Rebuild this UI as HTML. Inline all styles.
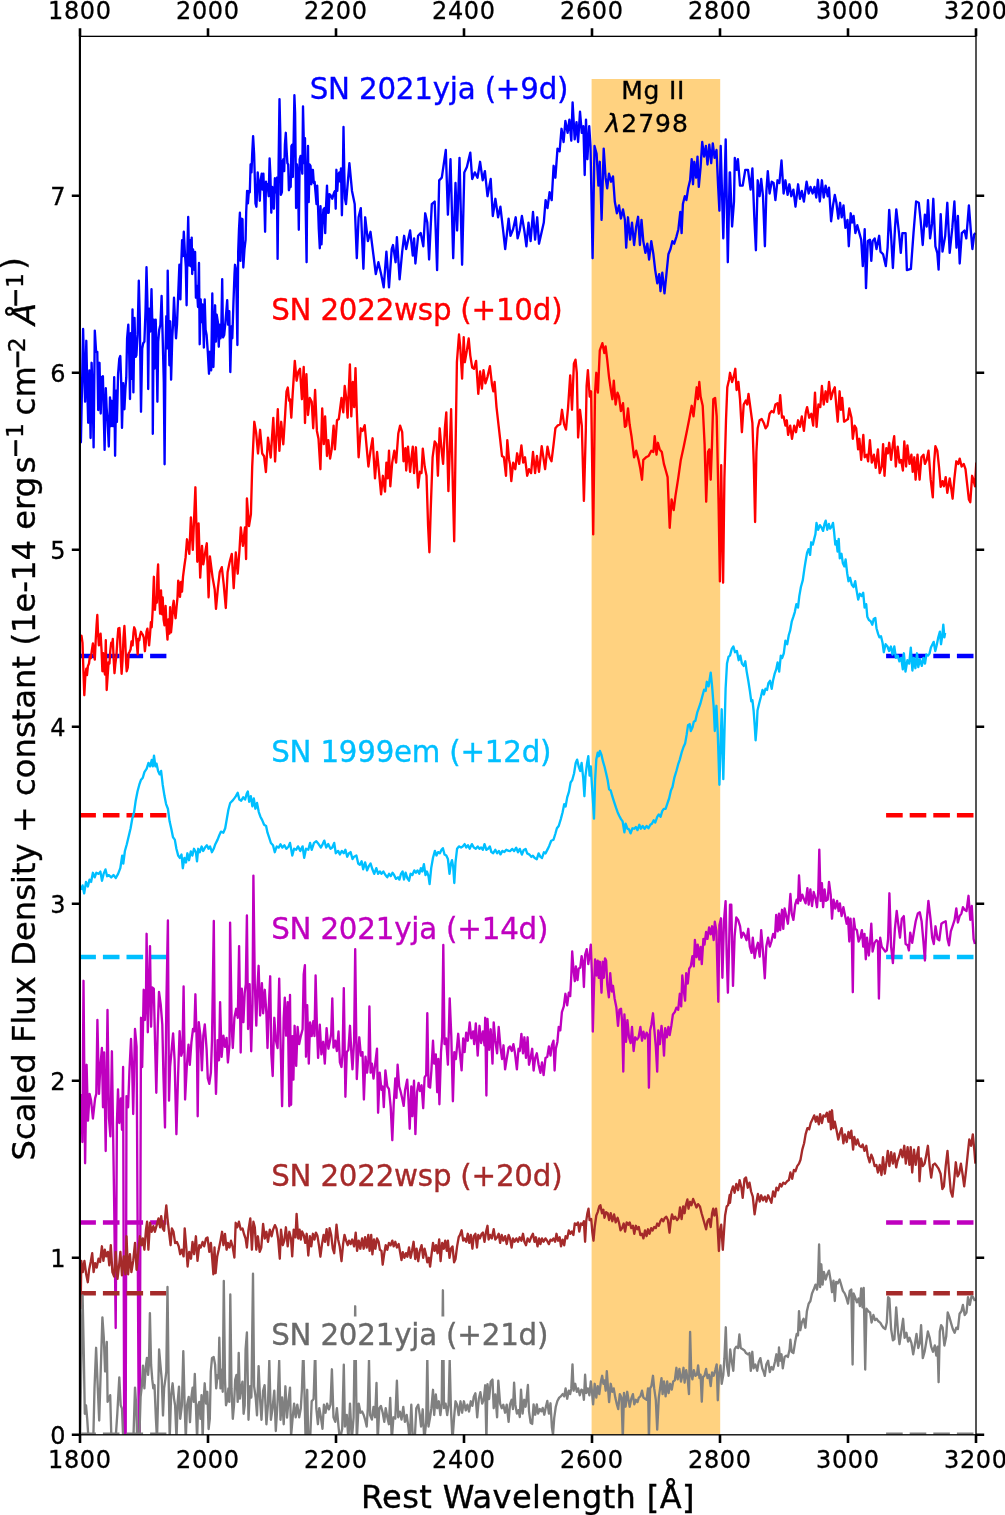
<!DOCTYPE html>
<html><head><meta charset="utf-8"><title>Spectra</title><style>html,body{margin:0;padding:0;background:#fff}body{width:1005px;height:1515px;overflow:hidden}</style></head><body>
<svg width="1005" height="1515" viewBox="0 0 1005 1515" style="display:block">
<rect width="1005" height="1515" fill="#fff"/>
<defs><clipPath id="ax"><rect x="80" y="36.35" width="896" height="1398.45"/></clipPath></defs>
<rect x="591.6" y="79" width="128.6" height="1355.8" fill="#ffd280"/>
<g clip-path="url(#ax)">
<polyline points="80.6,441.7 80.9,442.3 82.1,382.2 83.1,329.0 84.3,377.2 85.1,401.7 86.3,340.8 87.3,389.0 88.2,422.8 89.4,370.4 90.6,438.1 91.6,362.8 92.8,399.1 93.6,447.4 94.8,330.6 96.1,351.8 97.3,351.8 98.2,410.1 99.5,362.8 100.7,413.5 101.7,377.2 102.9,376.3 103.8,416.1 104.6,449.9 105.8,388.2 106.6,407.6 107.6,421.1 108.8,446.5 110.0,397.5 111.0,426.2 111.9,400.8 113.1,426.2 114.2,377.2 115.1,455.8 116.1,390.7 116.9,422.0 118.1,373.8 119.3,358.6 120.3,356.0 121.2,382.2 122.0,427.9 123.2,383.1 124.4,409.3 125.4,389.0 126.3,377.2 127.1,338.3 128.3,324.7 129.1,348.4 130.0,399.1 130.8,333.2 131.7,378.8 132.5,309.5 133.4,392.4 134.5,318.0 135.6,356.9 136.4,355.2 137.6,334.9 138.8,280.7 139.8,318.0 141.0,411.8 142.2,348.4 143.2,343.3 144.4,341.6 145.5,311.2 146.5,267.2 147.4,301.0 148.2,389.0 149.1,308.7 150.3,331.5 151.5,289.2 152.5,331.5 152.8,433.8 153.7,319.6 154.5,368.7 155.7,319.6 156.7,356.9 157.4,401.7 158.2,341.6 159.2,329.8 160.4,324.7 161.6,296.0 162.6,334.9 163.8,382.2 164.6,464.3 165.5,353.5 166.3,316.3 167.2,348.4 167.7,270.6 168.5,321.3 169.4,365.3 170.2,321.3 171.1,379.7 172.3,336.6 173.1,323.0 174.0,297.7 175.1,321.3 176.0,338.3 177.0,324.7 178.2,294.3 179.4,264.7 180.4,299.4 181.2,264.7 182.1,240.1 182.9,256.2 183.8,231.7 184.9,252.8 185.8,266.4 186.6,305.3 187.5,246.1 188.2,217.0 189.2,265.5 190.0,240.1 190.9,266.4 191.7,237.6 192.2,274.0 193.1,249.5 194.2,269.7 195.1,252.0 195.9,297.7 196.8,285.8 198.0,307.0 199.0,263.0 199.7,344.2 200.7,299.4 201.5,322.2 202.4,304.4 203.0,318.0 203.9,347.6 204.7,299.4 205.6,329.8 206.6,334.9 207.8,351.8 209.0,373.8 210.0,351.8 211.2,370.4 212.3,293.4 213.4,367.0 214.2,339.9 215.1,305.3 215.9,341.6 216.7,314.6 217.9,322.2 218.8,346.7 219.6,324.7 220.5,338.3 221.3,329.8 222.2,279.1 223.0,337.4 224.2,334.9 225.2,324.7 226.4,310.3 227.2,300.2 228.1,324.7 229.3,311.2 230.3,372.1 231.5,326.4 232.3,338.3 233.5,301.0 234.5,274.0 235.0,264.8 236.1,270.1 237.4,345.0 238.2,251.6 239.0,229.2 239.9,212.7 240.5,260.9 241.6,218.6 242.5,219.3 243.3,267.5 244.5,249.0 245.6,239.7 246.2,212.0 247.1,190.9 247.9,203.4 248.9,190.9 249.8,192.2 250.6,164.5 251.5,172.4 252.2,153.9 253.1,136.1 254.1,153.9 254.8,177.7 255.5,203.4 256.4,206.7 257.2,189.6 257.7,172.4 258.5,181.7 259.2,185.6 259.8,200.8 260.7,180.3 261.7,173.7 262.5,189.6 263.4,173.7 264.3,198.8 265.1,231.8 266.0,181.7 266.7,190.2 267.6,184.3 268.7,196.2 269.6,158.5 270.4,175.0 271.3,212.7 272.2,186.9 273.0,188.3 273.9,208.7 274.9,178.3 275.9,192.2 276.8,177.7 277.6,258.9 278.6,164.5 279.5,99.1 280.3,132.8 280.9,194.9 281.9,192.2 282.5,161.8 283.4,159.2 284.2,171.1 284.9,144.7 285.8,132.8 286.5,148.6 287.4,163.2 288.2,164.5 288.9,190.2 289.8,186.9 290.7,186.9 291.4,146.0 292.2,144.7 292.8,177.0 293.7,136.8 294.4,95.2 295.1,113.0 295.7,164.5 296.1,208.1 297.0,164.5 298.0,177.7 298.8,229.8 299.7,159.2 300.6,155.9 301.4,164.5 302.3,173.7 303.0,106.4 303.6,132.8 304.3,163.2 305.0,138.1 305.6,202.8 306.6,262.2 307.3,172.4 308.0,146.0 308.7,202.1 309.6,164.5 310.5,165.8 311.3,184.3 312.2,169.8 312.9,169.8 313.8,183.0 314.6,181.7 315.5,192.2 316.5,204.1 317.2,185.6 318.2,212.0 318.8,229.2 319.8,248.3 320.5,206.1 321.5,244.4 322.4,225.2 323.4,209.4 324.4,208.1 325.2,233.1 326.1,205.4 327.0,185.6 327.8,212.7 328.7,212.7 329.4,194.2 330.3,194.9 331.4,196.8 332.3,198.8 333.3,194.9 334.3,192.2 335.1,190.9 335.7,208.7 336.4,169.8 337.3,190.9 338.2,175.0 339.3,172.4 340.2,181.7 341.0,168.4 341.9,215.3 342.9,172.4 343.5,126.9 344.3,172.4 345.0,198.8 346.0,204.1 349.4,163.2 352.0,190.9 354.7,204.1 356.8,258.2 358.6,217.3 360.8,208.1 363.4,268.8 365.2,217.3 367.9,241.1 370.5,231.8 374.0,259.5 375.8,274.1 378.4,262.2 381.1,274.1 383.7,287.3 386.4,251.6 389.0,287.3 391.7,249.0 393.0,245.0 395.6,262.2 396.9,237.1 399.6,279.3 402.2,251.6 404.1,235.8 406.2,249.0 410.1,230.5 412.8,255.6 414.1,238.4 415.4,263.5 418.1,235.8 420.7,233.1 423.3,246.3 425.2,213.3 427.3,222.6 429.1,259.5 431.8,204.1 434.7,201.5 437.1,270.1 439.2,180.3 441.8,177.7 445.8,150.0 447.9,214.7 450.5,159.2 453.2,258.2 455.5,183.0 457.1,230.5 459.5,157.9 462.1,264.8 464.3,172.4 466.9,167.1 470.3,152.6 472.2,179.0 474.8,172.4 477.5,177.7 480.1,161.8 482.7,180.3 484.9,171.1 487.5,196.2 490.7,179.0 492.8,216.0 495.4,198.8 498.1,217.3 500.4,206.7 503.3,231.8 505.2,249.0 508.6,218.6 510.5,235.8 513.1,229.2 515.7,217.3 517.6,238.4 519.7,230.5 521.9,216.0 524.5,231.8 526.4,246.3 528.5,222.6 530.6,241.1 533.0,212.0 535.1,239.7 537.2,217.3 539.0,243.7 541.7,231.8 543.8,222.6 545.6,200.1 547.5,208.1 549.6,192.2 551.7,200.1 553.6,165.8 555.4,177.7 557.5,148.6 559.6,151.3 561.5,128.8 563.6,142.0 565.4,120.9 567.6,132.8 569.4,119.6 571.3,140.7 572.6,102.4 574.7,139.4 576.5,122.2 578.1,142.0 580.0,111.7 581.8,132.8 583.4,126.2 584.7,175.0 586.0,119.6 587.4,159.2 589.2,126.2 590.5,146.0 592.6,258.2 594.5,146.0 596.6,153.9 598.4,185.6 599.8,161.8 601.6,219.9 603.7,148.6 605.6,177.7 607.2,188.3 609.0,173.7 611.1,181.7 613.0,176.4 614.8,201.5 616.9,213.3 619.0,205.4 620.9,218.6 623.0,209.4 624.9,219.9 626.2,247.7 628.0,217.3 630.1,239.7 632.0,222.6 634.1,245.0 636.2,226.5 638.1,216.8 639.9,245.0 641.5,219.9 643.3,241.1 645.4,252.9 647.3,243.7 649.1,259.5 651.3,241.1 653.4,254.3 655.2,270.1 657.3,283.3 659.2,274.1 660.5,291.2 662.3,272.7 664.5,293.3 666.3,275.4 668.4,254.3 670.5,249.0 672.4,241.1 674.2,243.7 676.3,237.1 678.4,229.2 680.3,212.0 681.6,233.1 682.9,204.1 684.8,196.2 686.4,200.1 688.2,188.3 690.1,180.3 691.7,159.2 693.0,184.3 694.3,161.8 696.1,177.7 697.5,156.6 698.8,186.9 700.6,167.1 702.2,142.0 704.1,156.6 705.9,146.0 707.5,164.5 709.3,144.7 711.2,163.2 712.8,143.4 714.6,157.9 716.5,150.0 718.1,185.6 719.4,210.7 720.7,146.0 723.3,238.4 725.7,139.4 727.8,262.2 729.7,172.4 730.0,172.4 732.1,226.5 734.0,201.5 734.8,157.9 736.6,169.8 737.9,159.2 740.0,185.6 742.7,185.6 745.3,169.8 748.0,169.8 750.6,189.6 752.4,168.4 754.3,217.3 755.9,250.3 757.7,180.3 759.6,196.2 761.2,179.0 763.0,196.2 764.9,246.3 766.4,190.9 767.8,171.1 769.6,193.5 771.7,181.7 773.6,183.0 775.4,200.1 777.5,180.3 779.4,183.0 781.5,160.5 783.6,193.5 785.4,180.3 787.6,194.9 789.4,184.3 791.3,196.2 793.4,189.6 795.5,206.7 798.1,184.3 800.0,198.8 801.8,190.9 803.9,201.5 806.6,181.7 808.7,193.5 810.5,186.9 812.6,193.5 814.5,186.9 816.3,197.5 817.9,179.8 819.8,201.5 821.9,180.3 823.7,197.5 825.6,185.6 827.7,196.2 829.0,187.7 831.1,221.3 833.0,205.4 834.8,194.9 836.4,202.8 838.3,218.6 840.1,202.8 841.7,217.3 843.5,205.4 845.4,227.9 847.5,219.9 848.8,246.3 850.7,213.3 852.2,222.6 853.6,216.0 855.4,233.1 857.3,225.2 859.4,233.1 861.2,239.7 862.8,266.1 864.7,229.2 866.0,288.1 867.8,241.1 869.9,239.7 871.3,260.9 872.6,241.1 874.7,238.4 876.5,249.0 879.2,235.8 880.5,251.6 883.1,254.3 885.8,266.1 887.6,247.7 889.2,209.9 891.1,235.8 892.9,268.0 895.0,227.9 896.3,209.4 899.0,233.1 900.8,252.9 902.4,233.1 905.6,233.1 906.9,270.1 910.9,268.8 913.5,233.1 916.1,201.5 918.8,202.8 920.6,219.9 922.7,245.0 924.9,214.7 926.7,226.5 928.0,200.1 930.1,238.4 932.0,223.9 933.3,198.8 935.4,246.3 937.3,252.9 938.6,269.6 940.7,214.1 942.5,251.6 945.2,235.8 947.3,202.8 949.7,252.9 952.3,227.9 954.4,201.5 956.5,247.7 957.9,216.0 959.7,263.5 961.8,233.1 964.5,230.5 966.3,238.4 968.9,205.4 970.8,230.5 972.4,249.0 974.2,234.5 975.5,233.1" fill="none" stroke="#0000ff" stroke-width="2.35" stroke-linejoin="round" stroke-linecap="butt"/>
<path d="M79.3,656.0H166.4 M886.1,656.0H976.0" stroke="#0000ff" stroke-width="4.5" stroke-dasharray="16.6,7" fill="none"/>
<polyline points="80.4,636.3 81.5,635.7 82.5,642.8 83.4,670.0 84.3,695.2 85.3,676.4 86.3,668.7 87.0,675.1 87.9,666.1 89.0,663.5 89.9,656.4 90.8,658.3 91.8,650.6 92.9,643.4 93.8,650.6 94.8,659.6 95.7,640.2 96.6,624.7 97.3,615.0 98.0,632.4 98.9,645.4 99.8,637.6 100.6,633.7 101.5,649.3 102.4,671.3 103.2,653.1 104.1,670.0 105.0,674.5 105.8,640.2 106.7,690.0 107.6,676.4 108.6,662.2 109.5,663.5 110.3,650.6 111.2,642.8 112.1,644.7 112.8,638.9 113.6,658.3 114.5,673.2 115.4,663.5 116.4,655.7 117.4,640.2 118.3,628.6 119.4,627.9 120.0,637.6 120.9,660.9 121.6,673.8 122.5,660.9 123.5,637.6 124.4,626.0 125.2,640.2 126.1,662.2 126.7,671.3 127.8,667.4 128.7,653.1 129.6,651.8 130.6,649.3 131.5,641.5 132.6,645.4 133.5,632.4 134.2,627.3 135.2,629.9 136.1,637.6 136.8,644.1 137.7,654.4 138.4,638.9 139.3,640.2 140.1,635.0 141.0,631.8 142.0,633.7 142.9,635.0 143.8,637.6 144.9,651.2 145.8,642.8 146.5,631.8 147.4,628.6 148.4,637.6 149.1,645.4 150.0,635.0 150.9,622.1 151.7,627.3 152.6,611.7 153.3,592.3 153.9,576.8 154.9,609.8 155.9,597.5 156.8,602.7 157.4,575.5 158.1,564.5 158.8,591.7 159.5,602.7 160.1,613.7 161.0,590.4 161.9,614.3 162.7,597.5 163.6,619.5 164.5,625.3 165.6,605.9 166.6,627.3 167.5,639.6 168.4,619.5 169.4,633.7 170.1,607.2 171.0,632.4 172.0,622.1 172.9,605.9 173.7,600.8 174.6,611.7 175.6,618.2 176.6,606.6 177.5,597.5 178.2,580.7 179.1,583.3 180.0,596.9 181.1,582.0 182.0,591.7 183.0,576.8 184.3,566.5 185.6,557.4 187.0,539.3 189.3,553.9 190.9,517.4 192.8,549.9 195.4,487.3 197.3,561.8 198.6,523.5 200.2,577.6 202.0,545.9 203.3,564.4 205.4,551.2 206.8,543.3 208.6,597.4 209.9,556.5 212.6,577.6 214.7,589.5 216.0,608.8 217.9,588.2 219.7,572.3 221.8,567.1 223.7,584.2 225.8,608.0 227.6,572.3 229.7,561.8 231.8,553.9 233.7,588.2 235.8,552.5 237.7,573.7 239.5,549.9 240.8,527.5 242.9,545.9 245.0,527.5 246.1,559.1 246.9,498.4 249.0,526.1 250.9,514.3 252.2,466.7 254.3,421.8 256.1,432.4 258.0,453.5 260.1,429.8 262.2,453.5 264.1,456.2 265.9,472.0 268.0,437.7 270.7,457.5 273.3,417.9 275.1,461.5 277.8,409.2 279.4,450.9 281.2,421.8 283.3,444.3 285.2,413.9 286.5,391.5 287.8,387.5 289.1,400.7 290.0,399.2 291.3,417.7 292.6,395.2 294.8,360.9 296.6,380.7 298.4,371.5 300.0,368.8 301.9,399.2 303.7,367.0 305.0,423.0 306.4,374.1 308.0,415.0 309.8,397.9 311.7,401.8 313.2,428.3 315.1,390.0 316.9,430.9 318.5,438.8 320.4,469.2 322.2,408.4 323.8,444.1 325.1,416.4 327.0,456.0 328.3,440.1 330.1,458.6 331.7,449.4 333.6,425.6 334.9,449.4 337.0,420.3 338.8,419.0 341.5,397.9 343.3,412.4 344.7,386.0 346.2,397.9 347.6,417.7 349.9,364.4 351.3,416.4 352.8,382.0 354.2,407.1 355.5,368.1 356.8,411.1 358.6,457.3 360.8,428.3 362.6,430.9 364.7,425.1 366.6,446.7 368.4,466.5 370.5,450.7 372.6,438.3 375.0,478.4 377.1,452.0 379.0,471.8 381.1,494.3 382.9,475.8 385.0,491.6 386.4,462.6 387.7,478.4 389.0,450.7 390.3,486.3 392.2,462.6 394.3,450.7 396.1,462.6 398.3,433.5 400.1,425.6 402.2,432.2 403.5,461.3 405.4,448.1 406.2,470.5 408.0,446.7 410.1,471.8 411.5,457.3 412.8,446.7 414.1,473.1 415.9,447.3 418.1,487.7 419.9,471.8 421.5,473.1 422.8,448.6 424.7,466.5 426.5,475.8 428.1,525.9 429.4,552.3 430.7,510.1 432.6,457.3 434.7,441.5 436.5,444.1 437.9,475.8 439.7,428.3 441.8,452.0 443.1,463.9 445.0,426.9 446.3,412.4 448.4,491.1 451.1,409.2 452.9,489.0 454.2,541.3 455.5,452.0 456.9,362.2 459.0,334.5 460.3,347.7 462.1,378.6 463.7,337.2 464.8,362.2 466.9,350.4 468.7,338.5 470.3,355.6 472.2,367.5 474.0,368.8 476.1,360.9 478.3,393.9 480.1,371.5 481.9,388.6 483.5,370.2 485.4,383.4 487.5,376.8 489.9,366.2 492.0,384.7 493.3,391.3 494.6,382.0 496.5,407.1 498.6,425.6 500.4,441.5 502.0,456.0 503.9,457.3 506.0,475.8 507.3,440.1 509.1,459.9 510.0,463.9 511.3,481.1 513.2,462.6 515.3,469.2 517.1,453.3 519.2,463.9 521.4,445.4 523.2,462.6 525.0,457.3 527.2,475.8 529.0,469.2 531.1,473.1 533.0,452.0 535.1,473.1 536.9,456.0 539.0,471.8 541.7,446.2 545.1,469.2 547.5,446.7 549.6,457.3 551.5,461.3 553.6,444.1 555.4,428.3 557.5,425.6 560.2,424.3 562.0,409.8 564.1,424.3 566.0,429.6 568.1,407.1 570.2,375.4 572.0,409.8 573.9,363.6 575.5,359.6 576.8,372.8 578.1,437.5 580.0,409.8 581.8,425.6 583.9,500.9 585.8,430.9 586.6,386.0 587.9,370.2 589.7,396.6 591.1,391.3 593.2,534.4 595.0,393.9 596.3,372.8 597.9,392.6 599.8,350.4 602.4,343.2 604.3,353.0 605.6,346.4 607.2,359.6 609.0,376.8 610.9,390.0 612.4,399.2 613.8,380.7 615.6,404.5 617.5,392.6 619.0,396.6 620.9,411.1 623.0,403.2 624.9,426.9 626.2,425.6 628.0,408.4 629.6,424.3 631.5,436.2 634.1,457.3 636.2,450.7 638.6,459.9 640.2,467.9 642.0,479.7 643.3,459.9 646.0,457.3 648.6,456.0 651.3,450.7 653.4,452.0 654.7,436.2 656.5,454.7 657.9,442.8 659.7,449.4 661.8,452.0 663.9,463.9 665.8,470.5 667.6,477.1 669.7,527.8 671.6,499.5 673.7,510.1 675.5,495.6 678.2,478.4 680.8,459.9 683.7,446.7 686.9,430.9 689.5,417.7 691.7,405.8 693.5,416.4 694.8,404.5 696.7,387.3 698.0,399.2 699.3,382.0 700.6,396.6 702.7,405.8 704.6,444.1 706.2,501.7 708.0,452.0 709.3,449.4 710.7,479.7 712.0,444.1 713.3,399.2 715.1,397.9 716.7,416.4 718.6,504.8 719.9,581.4 721.2,465.2 723.1,582.7 724.4,478.4 726.0,420.3 727.3,387.3 729.1,379.4 730.0,372.8 732.1,382.0 734.0,375.4 735.3,368.8 736.6,390.0 738.4,382.0 740.0,399.2 741.9,432.2 743.7,404.5 745.8,400.5 747.2,404.5 748.5,393.9 750.3,407.1 752.4,423.0 753.8,463.9 755.1,522.0 756.4,452.0 757.7,428.3 759.6,420.3 761.7,419.0 763.8,423.0 765.6,428.3 767.5,425.6 769.6,413.7 771.7,411.1 773.6,412.4 775.4,404.5 777.5,403.2 778.8,413.7 780.2,395.2 782.0,417.7 783.6,416.4 785.4,425.6 786.8,420.3 788.1,434.9 790.2,425.6 792.0,438.8 794.2,425.6 796.0,432.2 798.1,420.3 800.0,426.9 801.8,416.4 803.9,430.9 805.8,412.4 807.1,407.1 809.2,417.7 811.3,413.7 813.2,425.6 815.0,392.6 816.6,426.9 818.4,404.5 820.3,407.1 821.9,386.0 823.7,404.5 825.6,391.3 827.2,401.8 829.0,382.0 830.9,399.2 833.0,391.3 834.8,387.3 836.4,407.1 837.7,421.7 839.6,391.3 840.9,409.8 842.2,397.9 844.1,421.7 846.2,420.3 848.0,419.0 849.3,408.4 851.5,417.7 852.8,438.8 854.6,425.6 856.2,428.3 858.1,449.4 859.4,438.8 861.2,459.9 863.3,434.9 864.7,457.3 866.8,454.7 868.1,461.3 869.9,440.1 871.8,462.6 873.9,454.7 875.7,467.9 877.9,449.4 879.7,473.1 881.8,466.5 883.1,444.1 884.5,475.8 886.3,448.1 887.9,453.3 889.2,442.8 891.1,459.9 892.9,444.1 894.2,436.2 895.8,466.5 897.7,446.7 899.5,462.6 901.1,459.9 902.9,470.5 904.3,441.5 906.1,466.5 907.4,445.4 909.5,463.9 911.4,454.7 912.7,471.8 914.3,457.3 915.6,479.7 917.5,454.7 919.6,479.7 921.4,457.3 923.5,454.7 924.9,463.9 926.7,459.9 928.5,450.7 930.7,479.7 932.8,497.4 934.1,462.6 935.4,446.2 937.3,450.7 939.1,467.9 940.7,486.9 942.5,481.1 943.9,486.3 945.7,477.1 947.3,492.9 949.7,478.4 951.3,489.0 952.6,498.7 954.4,478.4 956.3,461.3 958.4,463.9 959.7,458.6 961.6,466.5 963.7,463.9 965.5,469.2 967.1,483.7 968.9,499.5 970.3,502.2 972.1,475.8 973.4,479.7 975.0,486.3 976.3,462.6" fill="none" stroke="#ff0000" stroke-width="2.35" stroke-linejoin="round" stroke-linecap="butt"/>
<path d="M79.3,815.3H166.4 M886.1,815.3H976.0" stroke="#ff0000" stroke-width="4.5" stroke-dasharray="16.6,7" fill="none"/>
<polyline points="81.0,889.9 82.6,885.4 84.2,893.4 86.0,881.9 87.9,886.5 89.5,879.7 91.1,881.9 92.9,872.8 94.7,877.4 96.3,872.8 98.6,873.9 100.4,871.6 102.0,880.8 103.6,873.9 105.5,869.4 107.1,876.2 108.9,875.1 111.2,877.4 113.5,875.1 115.8,878.0 118.1,873.9 120.3,868.2 122.2,855.6 123.3,863.6 124.9,851.0 126.8,844.2 129.0,835.0 130.6,828.2 132.2,819.0 134.1,812.1 135.7,800.7 137.5,791.5 139.3,784.7 140.9,780.1 142.8,777.8 144.4,772.1 146.7,768.7 148.5,762.9 150.1,766.4 151.7,760.0 152.8,766.4 154.0,755.6 155.4,766.4 156.5,763.6 158.1,770.9 159.7,774.4 161.1,770.9 162.7,784.7 164.5,796.1 166.1,804.1 167.9,808.7 169.6,821.3 171.4,829.3 173.0,837.3 174.8,839.6 176.4,848.8 178.2,855.6 179.8,857.9 181.5,854.5 182.8,868.2 184.4,857.9 186.0,862.5 187.4,853.3 189.0,860.2 190.8,851.5 192.4,855.6 194.0,848.8 195.9,852.2 197.0,861.3 198.2,848.8 199.8,852.2 201.6,846.5 203.2,851.0 205.0,847.6 206.9,845.3 208.5,848.8 210.1,846.5 211.9,852.2 213.7,848.8 215.3,844.2 217.6,839.6 219.4,835.0 221.0,831.6 223.3,832.7 225.2,828.2 226.8,819.0 228.4,809.8 230.2,803.0 232.5,800.7 234.3,798.4 235.9,796.1 237.7,792.7 239.4,799.6 241.2,800.7 243.2,797.3 245.1,799.6 246.7,793.8 247.8,791.5 249.2,801.8 250.8,796.1 252.4,806.4 253.8,798.4 255.4,808.7 257.0,803.0 258.8,812.1 260.4,816.7 262.2,820.1 264.1,824.7 266.1,825.9 267.5,832.7 269.1,837.3 270.9,843.0 273.0,845.3 274.8,852.2 276.7,846.5 278.7,847.6 280.5,844.2 282.4,847.6 284.4,845.3 286.3,848.8 288.6,846.5 290.0,842.9 292.3,855.5 294.1,848.7 296.2,849.8 298.0,846.4 300.3,850.9 302.6,846.4 304.2,857.8 306.0,848.7 308.3,849.8 310.1,842.9 311.7,849.8 314.0,842.9 316.3,841.3 318.6,844.1 320.9,847.5 322.7,844.1 324.3,840.6 326.2,847.5 328.2,844.1 330.5,848.7 332.3,847.5 334.2,842.9 335.8,853.2 338.1,850.9 339.9,854.4 341.9,850.9 343.8,853.2 345.4,849.8 347.2,856.7 349.0,853.2 350.6,852.1 352.5,859.0 354.1,856.7 356.4,855.5 358.2,863.5 359.8,864.7 361.6,861.2 363.2,869.3 365.1,862.4 367.1,870.4 369.0,865.8 370.6,863.5 372.4,869.3 374.2,873.8 376.3,868.1 378.1,873.8 379.9,871.5 381.5,873.8 383.4,871.5 385.4,875.0 387.3,877.3 389.1,873.8 390.7,876.1 392.5,872.7 394.1,875.0 396.0,878.9 398.0,877.3 399.4,879.6 401.0,873.8 402.6,871.5 404.0,879.6 405.6,872.7 407.4,878.4 409.0,880.7 410.6,873.8 412.4,875.0 414.3,870.4 415.9,872.7 417.5,870.4 419.3,873.8 420.9,868.1 422.3,871.5 423.9,864.2 425.5,875.0 426.9,871.5 428.5,876.1 429.6,884.1 431.2,868.1 433.0,857.8 434.9,850.9 436.5,855.5 438.1,852.1 439.9,853.2 441.5,849.8 442.9,848.2 444.5,854.4 446.3,855.5 447.9,859.0 449.5,873.8 450.9,863.5 452.0,860.1 453.2,867.0 454.3,883.0 455.5,862.4 457.1,848.7 458.9,846.4 461.0,847.5 462.8,846.4 464.6,844.1 466.2,847.5 468.0,845.2 469.7,848.7 471.9,844.1 473.8,847.5 475.8,848.7 477.7,846.4 479.5,848.7 481.1,847.5 482.9,849.8 484.5,844.1 486.4,849.8 488.0,848.7 489.8,846.4 491.4,852.1 493.2,853.2 495.3,849.8 497.1,853.2 498.9,850.9 500.5,854.4 502.4,850.9 504.4,852.1 506.3,849.8 508.6,850.9 510.0,851.1 512.3,848.9 514.1,851.1 516.2,847.7 518.0,852.3 519.8,848.9 521.9,854.6 523.7,850.0 525.6,848.9 527.2,853.4 529.5,854.6 531.3,856.9 532.9,855.7 534.7,858.0 536.8,859.2 538.6,853.4 540.4,856.9 542.0,858.0 543.9,852.3 545.5,853.4 547.8,848.9 549.4,845.4 551.2,840.8 553.5,839.7 555.3,834.0 556.9,828.3 558.7,826.0 560.8,819.1 562.6,812.2 564.2,804.2 565.6,806.5 567.2,797.4 569.0,791.6 570.6,782.5 572.2,780.2 574.1,773.3 575.7,763.0 577.1,759.6 578.7,766.5 580.3,771.0 581.6,763.0 583.2,777.9 584.4,796.2 585.5,775.6 587.1,763.0 588.3,756.2 589.6,775.6 590.8,766.5 591.9,784.8 592.8,798.5 594.0,818.6 595.1,780.2 596.3,759.6 597.7,752.7 598.8,756.2 599.9,750.9 601.5,755.0 603.1,761.9 604.5,766.5 606.1,773.3 607.7,780.2 609.1,789.4 610.7,790.5 612.3,796.2 614.1,801.9 616.0,807.7 617.6,812.2 619.2,815.7 621.0,819.1 622.6,821.4 624.4,832.4 625.6,823.7 627.4,828.7 629.0,829.4 630.6,833.3 632.4,828.3 634.3,828.7 635.9,827.1 637.5,830.1 639.3,824.8 640.9,828.7 642.7,826.0 644.6,828.7 646.6,826.0 648.5,828.3 650.3,824.8 651.9,823.7 653.7,820.2 655.3,822.5 657.2,816.8 658.8,814.5 660.6,816.8 662.2,811.1 663.8,808.8 665.6,808.8 667.5,803.1 669.1,798.5 670.9,790.5 672.5,787.1 674.3,777.9 676.4,771.0 678.2,764.2 679.8,759.6 681.6,752.7 683.5,747.0 685.1,743.6 686.7,734.4 688.0,725.3 689.7,724.1 690.8,731.0 692.4,727.6 693.8,721.8 695.4,720.7 697.2,712.7 698.8,708.1 700.4,703.5 702.2,696.7 704.1,689.8 705.7,690.9 706.8,681.8 708.6,686.4 710.7,672.6 712.1,686.4 713.7,707.0 714.8,731.0 716.4,705.8 717.8,734.4 719.4,784.8 720.5,748.2 721.7,709.3 723.3,779.1 724.4,734.4 725.6,688.7 727.0,663.5 728.6,656.6 730.0,655.6 731.8,648.8 733.4,646.5 735.0,652.2 736.9,651.0 738.7,660.2 740.3,655.6 741.9,663.6 743.7,665.9 745.3,661.3 746.7,671.6 748.3,680.8 749.9,691.1 751.3,701.4 752.4,700.2 753.6,710.5 754.7,725.4 755.6,740.3 756.8,725.4 757.5,710.5 759.1,703.7 760.9,696.8 762.5,689.9 763.9,694.5 765.5,688.8 767.1,689.9 768.4,683.1 770.0,680.8 771.7,688.8 773.0,680.8 774.6,673.9 776.2,669.4 777.6,662.5 779.2,671.6 780.8,655.6 782.2,657.9 783.8,653.3 785.4,640.7 787.2,644.2 788.8,635.0 790.2,630.4 791.8,621.3 793.4,616.7 794.8,612.1 796.4,604.1 798.0,607.6 799.3,596.1 800.9,587.0 802.8,580.1 804.4,568.7 805.5,561.8 807.1,552.6 808.5,549.2 810.1,554.9 811.2,542.3 812.8,544.6 814.2,538.9 815.4,534.3 816.5,522.9 818.1,529.8 819.9,525.2 821.5,527.5 823.1,530.9 824.5,524.0 825.7,520.6 827.3,529.8 828.9,524.0 830.2,528.6 831.8,526.3 833.0,522.9 834.1,532.0 835.3,544.6 836.4,541.2 837.6,551.5 838.7,538.9 839.8,558.4 841.5,553.8 842.8,562.9 844.4,566.4 845.6,559.5 847.2,573.2 848.5,581.2 850.1,577.8 851.8,584.7 853.6,587.0 855.2,581.2 856.6,590.4 858.2,599.6 859.8,593.8 861.6,596.1 863.2,592.7 864.6,607.6 866.2,604.1 867.3,616.7 868.9,620.1 870.7,621.3 872.3,624.7 873.7,619.0 875.3,617.9 876.5,628.2 878.1,633.9 879.4,637.3 881.0,636.2 882.6,643.0 883.8,652.2 885.6,644.2 887.5,646.5 889.1,651.0 890.9,646.5 892.5,654.5 894.3,646.5 895.9,657.9 897.7,655.6 899.4,661.3 901.2,657.9 902.8,669.4 903.9,653.3 905.5,671.6 907.4,660.2 909.2,663.6 910.8,647.6 912.4,670.5 913.8,657.9 915.4,668.2 917.0,653.3 918.3,667.1 919.9,659.1 921.8,665.9 923.4,657.9 925.0,663.6 926.4,654.5 928.0,655.6 929.6,653.3 930.9,647.6 932.5,644.2 933.7,641.9 935.3,651.0 936.7,645.3 938.3,637.3 939.9,631.6 941.0,644.2 942.4,635.0 943.3,624.7 944.4,637.3 945.1,632.7" fill="none" stroke="#00bfff" stroke-width="2.35" stroke-linejoin="round" stroke-linecap="butt"/>
<path d="M79.3,956.9H166.4 M886.1,956.9H976.0" stroke="#00bfff" stroke-width="4.5" stroke-dasharray="16.6,7" fill="none"/>
<polyline points="81.3,1093.9 82.4,1142.0 83.5,980.8 85.1,1163.3 86.6,1064.8 88.0,1120.7 89.6,1093.9 91.1,1100.6 92.9,1118.5 95.1,1098.4 96.3,1093.9 97.4,1020.0 99.0,1093.9 100.3,1067.0 101.9,1048.0 103.0,1107.3 104.1,1052.5 105.7,1151.0 107.5,1009.9 109.0,1118.5 110.4,1136.4 111.9,1051.3 114.2,1205.8 115.7,1328.1 116.9,1123.0 118.0,1089.4 119.3,1123.0 120.9,1098.4 122.0,1129.7 123.1,1067.0 124.3,1474.5 125.6,1474.5 126.5,1096.1 128.1,1107.3 129.4,1071.5 131.0,1039.0 132.1,1064.8 133.2,1114.0 135.0,1029.0 136.6,1046.9 139.0,1474.5 139.6,1474.5 141.0,1017.8 142.2,1067.0 143.7,989.8 144.9,1020.0 146.0,995.4 146.6,933.8 147.8,1032.3 148.9,988.7 150.0,946.1 151.1,1026.7 152.2,987.5 153.8,988.7 155.1,1044.6 156.3,1092.8 157.8,1026.7 159.0,992.0 160.7,1004.3 162.3,1024.5 163.4,1073.7 165.0,1127.5 166.3,1008.8 167.9,920.4 169.0,1100.6 170.1,1067.0 171.7,1049.1 173.1,1033.4 174.6,1060.3 176.4,1134.2 178.0,1078.2 179.6,1031.2 181.3,1055.8 182.5,1051.3 183.6,986.4 185.1,1099.5 186.9,1064.8 188.5,1044.6 189.8,1064.8 191.4,1042.4 193.0,1029.0 194.3,1031.2 195.4,994.3 197.0,1053.6 197.7,1116.3 198.8,1022.2 200.4,1035.7 201.9,1070.4 203.3,1035.7 204.8,1024.5 206.6,1049.1 207.8,1078.2 209.3,1083.8 210.9,1072.6 212.0,1040.1 213.8,921.0 214.9,1055.8 216.0,1093.9 217.6,1040.1 219.0,1060.3 220.1,1002.1 221.6,1056.9 223.4,1035.7 225.0,1046.9 226.6,1037.9 227.9,1062.5 229.5,1044.6 230.1,922.6 231.7,1026.7 232.8,1048.0 234.4,1017.8 236.2,1008.8 237.8,1017.8 239.1,946.1 240.7,1052.5 241.8,988.7 243.4,1022.2 244.7,993.1 245.8,984.2 246.9,915.4 248.1,1029.0 249.6,984.2 251.2,1051.3 252.5,1004.3 253.4,875.6 254.8,984.2 256.3,1025.6 257.5,986.4 258.6,965.8 260.1,1015.5 261.9,983.1 263.1,1013.3 264.8,989.8 266.4,1013.3 267.5,1048.0 268.7,1008.8 270.2,976.3 271.3,1053.6 272.7,1076.0 274.3,1017.8 275.8,1040.1 277.6,1048.0 279.2,978.6 280.5,1040.1 282.1,1106.2 283.7,1017.8 284.8,997.6 286.1,1035.7 287.7,1002.1 289.3,1106.2 290.0,994.9 291.1,1104.8 292.3,1036.1 293.4,1079.6 294.6,1025.8 296.2,1065.9 297.6,1027.0 299.2,1044.1 300.8,1036.1 302.6,1029.3 303.7,974.3 304.9,965.2 306.0,1056.7 307.2,1005.2 308.8,1063.6 310.1,1022.4 311.7,1036.1 313.3,1021.2 314.5,1036.1 315.6,975.5 317.0,1029.3 318.1,1057.9 319.8,1024.7 321.4,1054.4 323.2,1041.8 324.8,1063.6 326.6,1028.1 328.4,1048.7 330.0,1040.7 331.2,1033.8 332.3,998.4 333.5,1047.6 335.3,1040.7 336.9,1051.0 338.5,1031.5 339.9,1062.4 341.5,1067.0 342.6,1053.3 343.8,988.1 345.4,1096.8 346.8,1052.1 348.4,1049.8 350.0,1025.8 351.3,1052.1 352.5,1069.3 354.1,1040.7 355.2,949.2 356.8,1079.1 358.2,1052.1 359.3,1037.3 360.9,1055.6 362.5,1052.1 363.9,1099.5 365.5,1056.7 367.1,1072.7 368.5,1059.0 369.4,1006.4 370.6,1072.7 371.9,1063.6 373.5,1078.5 375.1,1064.7 377.0,1048.7 378.1,1112.8 379.7,1072.7 381.5,1089.9 382.7,1086.5 383.8,1107.1 385.4,1070.4 387.3,1086.5 388.9,1088.8 390.7,1107.1 392.3,1140.2 393.7,1104.8 395.3,1078.5 396.4,1097.9 397.6,1064.7 399.2,1086.5 400.5,1091.0 402.1,1097.9 403.7,1105.9 405.1,1089.9 407.2,1079.6 408.5,1100.2 409.7,1128.8 411.3,1086.5 412.4,1116.2 414.0,1080.7 415.4,1134.1 417.0,1092.2 418.6,1083.0 420.0,1091.0 421.6,1085.3 423.2,1108.2 424.6,1077.3 426.2,1075.0 427.3,1013.2 428.5,1086.5 430.1,1087.6 431.4,1070.4 433.0,1040.7 434.2,1063.6 435.8,1054.4 437.2,1092.2 438.3,1059.0 439.4,1104.3 441.0,1052.1 442.2,1036.1 443.3,945.0 444.5,1044.1 446.1,1038.4 447.9,1064.7 449.7,998.4 451.3,1036.1 452.9,1101.3 454.3,1052.1 455.9,1059.0 458.2,1033.8 459.8,1052.1 461.6,1070.4 463.2,1038.4 464.6,1052.1 466.2,1032.7 467.8,1040.7 469.7,1022.4 471.3,1038.4 473.1,1031.5 474.2,1044.1 475.8,1023.5 477.7,1055.6 479.5,1025.8 481.1,1043.0 482.9,1031.5 484.5,1045.3 485.2,1017.8 486.4,1095.6 487.5,1019.0 489.1,1049.8 490.7,1029.3 492.5,1063.6 493.7,1022.4 495.3,1040.7 497.1,1053.3 498.7,1027.0 500.5,1047.6 502.1,1059.0 503.5,1045.3 505.1,1069.3 506.7,1059.0 508.6,1047.6 510.0,1046.5 511.8,1051.0 513.4,1044.2 515.0,1053.3 516.9,1069.4 518.5,1048.8 519.8,1051.0 521.4,1033.9 523.0,1053.3 524.4,1037.3 526.0,1057.9 527.6,1037.3 529.0,1064.8 530.6,1057.9 532.2,1048.8 533.6,1070.5 535.2,1057.9 536.8,1053.3 538.6,1064.8 540.4,1072.8 542.0,1062.5 543.6,1075.1 545.5,1057.9 547.3,1056.8 548.9,1046.5 550.5,1055.6 551.9,1045.3 553.5,1040.7 554.6,1070.5 555.8,1048.8 557.4,1041.9 558.7,1027.0 560.3,1030.4 561.9,1012.1 563.8,1006.4 565.4,993.8 567.2,1005.3 568.8,992.7 570.2,996.1 571.3,975.5 572.2,951.5 573.4,968.7 574.8,981.2 575.9,966.4 577.5,980.1 578.7,968.7 580.3,967.5 581.6,956.1 582.8,961.8 583.9,987.0 585.1,954.9 586.7,949.2 588.3,964.1 589.6,954.9 590.8,944.6 591.9,973.2 592.8,1031.6 594.0,987.0 595.1,959.5 596.5,975.5 597.7,960.6 598.8,977.8 599.9,961.8 601.5,992.7 602.7,961.8 603.8,977.8 605.0,958.4 606.1,960.6 607.3,984.7 608.9,997.3 610.2,973.2 611.8,991.5 613.0,985.8 614.6,998.4 616.4,1007.6 618.0,1025.9 619.4,1009.8 621.0,1008.7 622.1,1021.3 623.3,1071.6 624.4,1014.4 626.0,1041.9 627.4,1020.1 629.0,1037.3 630.6,1043.0 632.0,1027.0 633.6,1051.0 635.2,1037.3 637.0,1039.6 638.6,1037.3 640.4,1027.0 642.0,1040.7 643.4,1031.6 645.0,1038.5 646.6,1032.7 648.0,1035.0 648.9,1087.7 650.1,1030.4 651.4,1024.7 653.0,1013.3 654.2,1028.2 655.8,1046.5 657.2,1071.6 658.3,1030.4 659.9,1044.2 661.5,1025.9 662.9,1037.3 664.0,1055.6 665.2,1028.2 666.8,1037.3 668.4,1027.0 669.7,1035.0 671.3,1025.9 672.9,1014.4 674.8,1012.1 676.4,1007.6 678.2,1009.8 679.8,993.8 681.2,1006.4 682.3,975.5 683.9,991.5 685.1,1000.7 686.2,973.2 687.8,983.5 689.2,968.7 690.8,966.4 692.4,956.1 693.8,966.4 694.9,940.0 696.5,957.2 697.7,944.6 699.3,959.5 700.6,946.9 701.8,964.1 703.4,938.9 704.5,944.6 706.1,932.0 707.5,938.9 709.1,927.5 710.7,934.3 712.1,926.3 713.7,940.0 714.8,921.7 716.4,930.9 718.3,1001.8 719.4,925.2 721.0,918.3 722.4,977.8 724.0,920.6 725.6,901.1 726.7,954.9 727.9,992.7 729.2,941.2 730.0,904.7 731.3,904.7 733.0,985.9 734.6,936.4 736.3,917.4 738.1,919.9 740.1,926.3 741.4,937.7 743.2,932.6 744.7,935.2 746.5,940.2 748.3,928.8 749.8,946.6 751.6,952.9 752.8,937.7 754.6,958.0 756.1,949.1 757.9,942.8 759.7,956.7 761.2,930.1 763.0,951.6 764.8,978.3 766.3,946.6 768.1,937.7 769.8,946.6 771.4,941.5 773.1,933.9 774.9,937.7 776.2,914.9 777.7,931.3 779.0,913.6 780.2,930.1 782.0,909.8 783.3,928.8 784.6,908.5 786.3,916.1 787.9,923.7 789.1,911.0 790.4,894.0 791.7,913.6 793.4,919.9 795.2,904.7 796.7,899.6 798.0,903.4 799.0,875.5 800.5,900.9 802.3,894.6 804.1,899.6 805.6,903.4 807.4,888.2 808.7,904.7 810.4,889.5 812.0,906.0 813.7,892.0 815.5,898.4 817.0,907.2 818.3,890.7 819.3,849.6 820.6,900.9 821.9,883.1 823.1,907.2 824.6,889.5 825.9,900.9 827.7,899.6 829.0,881.9 830.7,894.6 832.0,918.7 833.5,899.6 835.3,908.5 837.1,900.9 838.6,911.0 839.9,903.4 841.6,916.1 843.4,907.2 844.9,914.9 846.7,923.7 848.0,917.4 849.3,941.5 850.5,918.7 851.8,935.2 852.8,992.2 853.8,918.7 855.1,928.8 856.9,930.1 858.6,941.5 860.2,937.7 861.9,930.1 863.2,946.6 864.5,933.9 865.8,959.3 867.0,937.7 868.8,955.5 870.1,941.5 871.3,923.7 872.6,951.6 874.6,942.8 876.4,940.2 877.9,941.5 878.9,998.6 880.2,937.7 881.7,946.6 883.5,949.1 885.3,951.6 886.8,950.4 888.1,939.0 889.4,893.3 891.1,946.6 892.9,963.1 894.9,928.8 896.7,911.0 898.2,923.7 900.0,937.7 901.8,918.7 903.8,916.1 905.6,944.0 907.6,945.3 908.9,950.4 910.2,932.6 912.2,942.8 914.0,931.3 915.7,921.2 917.8,913.6 919.8,912.3 921.6,921.2 923.4,941.5 924.9,960.5 926.7,921.2 928.4,900.9 930.5,918.7 932.2,937.7 933.8,944.0 935.5,926.3 937.6,939.0 939.3,940.2 941.4,923.7 943.1,922.5 945.7,921.2 947.5,939.0 949.0,945.3 950.8,931.3 952.5,926.3 954.6,919.9 956.3,908.5 957.9,922.5 959.6,916.1 961.4,913.6 962.9,907.2 964.7,909.8 966.5,911.0 968.5,895.8 970.3,919.9 971.8,906.0 973.6,939.0 974.9,944.0" fill="none" stroke="#bf00bf" stroke-width="2.35" stroke-linejoin="round" stroke-linecap="butt"/>
<path d="M79.3,1222.4H166.4 M886.1,1222.4H976.0" stroke="#bf00bf" stroke-width="4.5" stroke-dasharray="16.6,7" fill="none"/>
<polyline points="80.6,1309.0 81.3,1260.9 82.8,1272.1 84.4,1260.9 86.2,1274.3 87.8,1282.2 89.1,1269.8 90.7,1262.0 92.2,1253.1 93.6,1272.1 95.1,1263.1 96.7,1267.6 98.5,1258.7 100.1,1262.0 101.9,1246.3 103.4,1260.9 104.8,1249.7 106.3,1256.4 107.9,1251.9 109.3,1265.4 110.8,1245.2 112.4,1272.1 114.2,1276.6 115.7,1251.9 117.5,1278.8 119.1,1265.4 120.4,1251.9 122.0,1275.4 123.8,1256.4 125.4,1274.3 126.5,1236.3 128.1,1274.3 129.9,1254.2 131.4,1272.1 133.2,1260.9 135.0,1243.0 136.6,1269.8 138.1,1254.2 139.9,1236.3 141.5,1245.2 142.8,1238.5 144.4,1249.7 146.0,1229.6 147.1,1221.7 148.4,1249.7 150.0,1222.8 151.6,1231.8 153.4,1226.2 154.9,1231.8 156.7,1225.1 158.5,1218.4 160.1,1227.3 161.2,1216.1 162.8,1228.4 164.1,1230.7 165.2,1216.1 166.3,1205.4 167.5,1218.4 169.0,1231.8 170.6,1245.2 171.9,1228.4 173.5,1231.8 175.1,1243.0 176.9,1241.9 178.7,1246.3 180.2,1254.2 181.8,1249.7 183.6,1256.4 184.7,1228.4 186.3,1247.5 187.6,1266.5 189.2,1251.9 191.0,1258.7 192.5,1241.9 194.1,1254.2 195.9,1236.3 197.5,1260.9 199.3,1245.2 200.8,1247.5 202.6,1241.9 204.2,1246.3 206.0,1238.5 207.5,1237.4 209.3,1251.9 210.9,1243.0 212.2,1258.7 213.4,1274.3 214.5,1247.5 215.6,1273.2 217.2,1256.4 218.7,1249.7 220.5,1240.7 222.1,1231.8 223.4,1245.2 225.0,1234.0 226.6,1249.7 227.9,1243.0 229.5,1247.5 231.0,1240.7 232.8,1247.5 234.4,1257.5 235.7,1222.8 237.3,1227.3 238.9,1221.7 240.7,1229.6 242.5,1228.4 244.0,1234.0 245.6,1238.5 246.9,1247.5 248.5,1229.6 250.3,1218.4 251.9,1249.7 253.4,1221.7 254.8,1227.3 256.3,1249.7 257.9,1236.3 259.7,1251.9 261.3,1247.5 263.1,1224.0 264.8,1238.5 266.4,1231.8 268.0,1241.9 269.8,1229.6 271.6,1236.3 273.1,1229.6 274.9,1225.1 276.5,1228.4 278.1,1238.5 279.8,1258.7 281.0,1229.6 282.8,1245.2 284.3,1240.7 285.9,1227.3 287.7,1246.3 289.3,1231.8 291.0,1238.5 292.2,1256.4 293.7,1229.6 295.5,1237.4 296.6,1213.9 298.2,1238.5 299.6,1229.6 300.8,1239.5 302.1,1231.5 303.7,1234.9 305.3,1242.9 306.7,1233.8 308.3,1255.5 309.9,1236.1 311.3,1246.4 312.9,1233.8 314.5,1239.5 315.9,1232.6 317.5,1236.1 319.1,1246.4 320.4,1256.7 322.0,1244.1 323.6,1234.9 325.0,1241.8 326.6,1229.2 328.2,1245.2 329.6,1228.1 331.2,1234.9 332.8,1248.7 334.2,1253.2 335.3,1240.6 336.5,1224.6 338.1,1239.5 339.7,1246.4 341.5,1261.2 343.1,1244.1 344.5,1234.9 346.1,1240.6 347.7,1245.2 349.0,1240.6 350.6,1244.1 352.2,1239.5 354.1,1246.4 355.7,1232.6 357.1,1250.9 358.7,1240.6 360.3,1248.7 362.1,1238.4 363.7,1248.7 365.1,1237.2 366.7,1247.5 368.3,1234.9 369.6,1250.9 371.2,1234.9 372.4,1254.4 374.0,1239.5 375.4,1248.7 377.0,1238.4 378.6,1241.8 379.9,1249.8 381.5,1250.9 382.7,1264.7 384.3,1253.2 385.7,1245.2 387.3,1249.8 388.9,1242.9 390.7,1245.2 392.3,1240.6 393.7,1246.4 395.3,1241.8 396.9,1247.5 398.7,1244.1 400.3,1253.2 401.5,1260.1 402.8,1252.1 404.4,1257.8 406.0,1253.2 407.4,1256.7 409.0,1247.5 410.6,1257.8 412.0,1250.9 413.6,1241.8 415.2,1259.0 416.6,1248.7 418.2,1261.2 419.8,1250.9 421.6,1245.2 423.2,1257.8 424.6,1248.7 426.2,1255.5 427.3,1262.4 428.9,1257.8 430.1,1266.5 431.4,1255.5 433.0,1242.9 434.6,1250.9 436.0,1245.2 437.6,1253.2 439.2,1239.5 440.6,1261.2 442.2,1242.9 443.8,1248.7 445.2,1240.6 446.8,1250.9 447.9,1240.6 449.5,1257.8 450.9,1248.7 452.5,1246.4 454.1,1262.4 455.5,1259.0 457.1,1246.4 458.7,1237.2 460.0,1234.9 461.6,1230.3 463.2,1240.6 464.6,1238.4 466.2,1241.8 467.8,1233.8 469.2,1242.9 470.8,1234.9 472.4,1248.7 473.8,1236.1 475.4,1233.8 477.0,1247.5 478.3,1234.9 479.9,1238.4 481.6,1233.8 482.9,1232.6 484.5,1241.8 486.1,1231.5 487.5,1225.8 488.6,1239.5 490.2,1234.9 491.8,1238.4 493.7,1229.2 495.3,1239.5 497.1,1237.2 498.7,1233.8 500.1,1242.9 501.7,1234.9 503.3,1240.6 505.1,1236.1 506.7,1244.1 508.6,1234.9 510.0,1238.4 511.6,1247.6 513.0,1238.4 514.6,1241.8 516.4,1238.4 518.0,1241.8 519.6,1237.3 521.4,1240.7 523.0,1233.8 524.4,1241.8 526.0,1245.3 527.6,1238.4 529.5,1241.8 531.1,1237.3 532.9,1233.8 534.5,1241.8 535.9,1237.3 537.5,1246.4 539.1,1238.4 540.4,1244.1 542.0,1238.4 543.6,1241.8 545.5,1238.4 547.1,1240.7 548.9,1244.1 550.5,1239.6 551.9,1240.7 553.5,1238.4 555.1,1241.8 556.5,1233.8 558.1,1240.7 559.7,1237.3 561.0,1246.4 562.6,1239.6 564.2,1245.3 565.6,1236.1 567.2,1238.4 568.8,1230.4 570.2,1233.8 571.8,1231.5 573.4,1235.0 574.8,1223.5 576.4,1224.7 578.0,1222.4 579.3,1231.5 580.9,1223.5 582.5,1224.7 583.9,1221.2 585.1,1241.8 586.2,1221.2 587.4,1213.2 588.5,1208.7 589.6,1220.1 591.2,1219.0 592.4,1232.7 593.5,1240.7 594.7,1227.0 596.3,1215.5 597.7,1212.1 599.3,1206.4 600.4,1205.2 602.0,1213.2 603.4,1209.8 604.5,1217.8 606.1,1212.1 607.7,1213.2 609.1,1220.1 610.7,1213.2 612.3,1221.2 614.1,1214.4 615.7,1222.4 617.6,1217.8 619.2,1223.5 620.5,1230.4 622.1,1228.1 623.7,1223.5 625.1,1231.5 626.7,1222.4 628.3,1224.7 629.7,1222.4 631.3,1228.1 632.9,1225.8 634.3,1233.8 635.9,1225.8 637.5,1229.3 638.8,1227.0 640.4,1235.0 642.0,1233.8 643.4,1238.4 645.0,1230.4 646.6,1236.1 648.0,1229.3 649.6,1233.8 651.2,1228.1 652.6,1230.4 654.2,1227.0 655.8,1228.1 657.2,1223.5 658.8,1225.8 660.4,1221.2 661.7,1219.0 663.3,1221.2 664.9,1217.8 666.3,1216.7 667.9,1220.1 669.5,1232.7 670.9,1220.1 672.0,1214.4 673.6,1219.0 675.2,1216.7 677.1,1220.1 678.7,1217.8 680.0,1207.5 681.6,1219.0 683.2,1206.4 684.6,1213.2 685.8,1205.2 687.4,1199.5 688.5,1208.7 690.1,1201.8 691.5,1205.2 693.1,1199.0 694.7,1202.9 696.5,1207.5 698.1,1204.1 699.9,1206.4 701.6,1213.2 702.9,1217.8 704.5,1223.5 706.1,1229.3 707.5,1221.2 709.1,1219.0 710.7,1227.0 712.1,1213.2 713.2,1208.7 714.4,1215.5 716.0,1208.7 717.1,1217.8 718.9,1251.0 720.1,1229.3 721.2,1224.7 722.8,1249.8 724.0,1231.5 725.1,1215.5 726.7,1206.4 728.1,1205.2 729.7,1194.9 730.0,1202.9 731.3,1191.5 733.0,1186.4 734.6,1192.8 736.3,1183.9 738.1,1190.2 739.6,1180.1 741.4,1187.7 742.7,1197.8 744.5,1178.8 746.0,1177.5 747.8,1187.7 749.5,1182.6 751.1,1191.5 752.8,1196.6 754.6,1214.3 756.1,1204.2 757.9,1194.0 759.7,1201.6 761.2,1195.3 763.0,1200.4 764.8,1196.6 766.3,1201.6 768.1,1195.3 769.8,1199.1 771.4,1202.9 773.1,1191.5 774.9,1196.6 776.4,1187.7 778.2,1190.2 780.0,1183.9 781.5,1186.4 783.3,1182.6 785.1,1183.9 787.1,1181.3 788.9,1180.1 790.4,1172.5 792.2,1178.8 793.9,1169.9 795.5,1171.2 797.2,1166.1 799.0,1163.6 800.5,1159.8 802.3,1149.6 804.1,1143.3 805.6,1134.4 807.4,1128.1 809.2,1129.3 810.7,1123.0 812.5,1119.2 814.2,1115.4 815.8,1121.7 817.0,1116.6 818.8,1124.3 820.1,1114.1 821.9,1123.0 823.4,1115.4 825.2,1116.6 826.9,1112.8 828.5,1121.7 829.7,1111.6 831.0,1129.3 832.0,1110.3 833.5,1128.1 834.8,1121.7 836.6,1130.6 838.3,1139.5 839.9,1133.1 841.6,1128.1 843.4,1143.3 844.9,1134.4 846.7,1142.0 848.5,1131.9 850.0,1138.2 851.3,1130.6 853.1,1149.6 854.3,1136.9 856.1,1144.6 857.6,1139.5 859.4,1145.8 861.2,1147.1 862.7,1144.6 864.5,1150.9 866.3,1145.8 867.8,1156.0 869.6,1162.3 871.3,1154.7 872.9,1158.5 874.6,1166.1 876.4,1164.9 877.9,1172.5 879.7,1164.9 881.5,1175.0 883.0,1157.2 884.8,1173.7 886.6,1161.0 887.8,1150.9 889.4,1166.1 891.1,1152.2 892.9,1163.6 894.4,1153.4 896.2,1167.4 897.5,1161.0 899.2,1156.0 900.8,1149.6 902.5,1157.2 904.3,1145.8 905.8,1163.6 907.6,1147.1 909.4,1164.9 910.7,1147.1 912.2,1172.5 914.0,1149.6 915.7,1164.9 917.3,1153.4 918.5,1147.1 919.5,1181.3 921.1,1158.5 922.8,1166.1 924.6,1163.6 926.1,1156.0 927.9,1145.8 929.7,1166.1 931.2,1177.5 933.0,1164.9 934.8,1163.6 936.8,1166.1 938.6,1168.7 940.6,1173.7 942.4,1189.0 943.9,1186.4 945.7,1166.1 947.5,1150.9 949.0,1171.2 950.8,1191.5 952.5,1196.6 954.1,1181.3 955.8,1162.3 957.6,1176.3 959.1,1173.7 960.9,1163.6 962.7,1175.0 964.2,1186.4 966.0,1171.2 967.8,1153.4 969.3,1139.5 971.1,1145.8 972.8,1134.4 974.4,1150.9 975.4,1163.6" fill="none" stroke="#a52a2a" stroke-width="2.35" stroke-linejoin="round" stroke-linecap="butt"/>
<path d="M79.3,1293.2H166.4 M886.1,1293.2H976.0" stroke="#a52a2a" stroke-width="4.5" stroke-dasharray="16.6,7" fill="none"/>
<polyline points="80.1,1439.1 81.4,1354.6 82.6,1295.4 83.8,1354.6 84.8,1413.8 86.0,1405.3 87.2,1418.8 88.5,1439.1 91.1,1439.1 93.3,1439.1 94.5,1388.4 96.1,1347.8 97.8,1388.4 99.2,1420.5 100.7,1371.5 102.4,1317.4 103.8,1337.7 105.1,1371.5 106.8,1341.9 107.6,1401.9 108.8,1398.6 110.2,1395.2 111.4,1439.1 113.1,1439.1 115.6,1439.1 117.3,1413.8 119.3,1377.4 120.7,1405.3 122.0,1408.7 123.2,1439.1 125.7,1439.1 130.8,1439.1 133.4,1439.1 135.0,1387.6 136.2,1405.3 137.2,1439.1 139.3,1439.1 140.6,1396.9 141.8,1386.7 143.0,1365.6 144.4,1388.4 145.7,1368.1 146.9,1358.0 148.1,1374.9 148.9,1364.7 149.9,1313.1 151.1,1364.7 152.3,1379.9 153.3,1388.4 154.5,1385.0 155.9,1418.8 157.0,1439.1 157.9,1405.3 159.1,1349.5 160.4,1364.7 161.8,1379.9 163.0,1415.5 164.1,1388.4 165.5,1378.3 166.3,1371.5 167.5,1286.9 168.5,1371.5 169.7,1439.1 171.1,1395.2 172.6,1383.3 174.0,1398.6 175.1,1405.3 176.5,1439.1 177.7,1401.9 179.0,1386.7 180.2,1418.8 181.9,1405.3 183.3,1351.2 184.6,1403.6 185.8,1439.1 187.0,1405.3 188.7,1396.9 190.0,1422.2 191.2,1398.6 192.6,1387.6 193.7,1401.9 194.8,1374.0 195.9,1405.3 197.1,1439.1 198.1,1405.3 199.3,1401.9 200.5,1418.8 201.5,1395.2 202.7,1439.1 203.6,1401.9 204.7,1383.3 206.1,1403.6 207.3,1391.8 208.6,1429.0 209.8,1418.8 210.8,1371.5 212.0,1358.0 213.7,1357.1 215.1,1364.7 216.2,1388.4 217.6,1374.9 218.4,1378.3 219.3,1337.7 220.5,1388.4 221.7,1369.8 222.7,1391.8 223.8,1281.0 225.0,1379.9 226.0,1405.3 227.2,1400.2 228.4,1388.4 229.3,1401.9 230.3,1294.5 231.5,1388.4 232.8,1418.8 234.0,1405.3 235.2,1379.9 236.5,1374.9 237.7,1401.9 238.7,1352.9 239.9,1398.6 241.1,1388.4 242.5,1381.6 243.6,1413.8 244.7,1405.3 245.6,1349.3 246.9,1332.5 248.5,1419.8 250.1,1386.3 251.4,1397.5 253.0,1273.7 254.1,1386.3 255.7,1397.5 257.0,1415.4 258.6,1366.1 260.1,1399.7 261.5,1419.8 263.1,1390.7 264.6,1385.1 266.4,1424.3 268.0,1404.2 269.3,1360.5 270.9,1419.8 272.5,1408.7 274.3,1390.7 275.8,1431.0 277.6,1401.9 279.2,1360.5 280.5,1419.8 282.1,1397.5 283.7,1424.3 285.4,1386.3 287.0,1417.6 288.4,1401.9 290.0,1387.6 291.1,1435.6 292.7,1417.3 294.1,1403.6 295.7,1417.3 297.3,1404.7 299.2,1417.3 300.8,1408.2 301.9,1389.8 303.3,1348.7 304.4,1389.8 305.6,1440.2 307.2,1389.8 308.3,1440.2 310.1,1440.2 311.7,1401.3 313.6,1399.0 315.2,1348.7 316.3,1408.2 317.9,1424.2 319.3,1408.2 320.9,1417.3 322.5,1428.8 323.9,1404.7 325.5,1412.7 327.1,1403.6 328.9,1409.3 330.5,1404.7 331.9,1369.3 333.5,1417.3 335.3,1421.9 336.9,1408.2 338.5,1426.5 339.9,1440.2 342.2,1428.8 343.8,1364.7 344.9,1426.5 346.8,1415.0 348.4,1440.2 350.0,1403.6 351.8,1440.2 353.6,1417.3 355.2,1306.3 356.8,1440.2 358.7,1403.6 360.5,1412.7 362.1,1411.6 363.7,1415.0 365.1,1419.6 366.7,1426.5 367.8,1408.2 369.0,1360.1 370.1,1415.0 371.9,1419.6 373.5,1407.0 375.1,1417.3 376.5,1383.0 377.7,1440.2 379.3,1408.2 380.9,1405.9 382.7,1412.7 384.3,1421.9 385.7,1408.2 387.3,1417.3 388.9,1424.2 390.2,1397.9 391.8,1440.2 393.4,1417.3 395.3,1418.5 396.9,1380.7 398.2,1417.3 399.8,1411.6 401.5,1419.6 403.3,1407.0 404.9,1421.9 406.7,1415.0 408.3,1426.5 409.7,1440.2 411.3,1404.7 412.9,1440.2 414.7,1440.2 416.3,1408.2 418.2,1404.7 419.8,1415.0 421.1,1426.5 422.7,1409.3 424.3,1440.2 426.2,1421.9 427.3,1357.8 428.5,1426.5 430.1,1417.3 431.4,1408.2 433.0,1389.8 434.2,1415.0 435.8,1394.4 437.2,1408.2 438.8,1401.3 440.4,1415.0 441.7,1403.6 442.9,1290.3 444.0,1408.2 445.6,1403.6 447.2,1415.0 448.6,1404.7 449.7,1360.1 450.9,1408.2 452.5,1440.2 454.1,1417.3 455.5,1401.3 457.1,1404.7 458.7,1415.0 460.5,1401.3 462.1,1412.7 463.9,1401.3 465.8,1410.4 467.4,1404.7 469.0,1411.6 470.8,1401.3 472.4,1405.9 473.8,1396.7 475.4,1393.3 477.2,1417.3 478.8,1399.0 480.4,1392.1 482.2,1403.6 483.8,1399.0 485.2,1385.3 486.4,1440.2 487.5,1384.1 489.1,1399.0 490.7,1381.8 492.5,1379.6 493.7,1408.2 495.3,1394.4 497.1,1417.3 498.3,1380.7 500.1,1403.6 501.7,1408.2 503.3,1404.7 505.1,1412.7 506.7,1404.7 508.6,1421.9 510.0,1404.4 511.6,1399.8 513.0,1409.0 514.1,1382.7 515.3,1404.4 516.9,1413.6 518.5,1410.1 519.8,1417.0 521.0,1389.6 522.6,1413.6 524.2,1399.8 525.6,1406.7 526.7,1397.6 527.9,1385.0 529.0,1411.3 530.6,1422.7 532.2,1423.9 533.6,1404.4 535.2,1414.7 536.8,1404.4 538.1,1413.6 539.8,1409.0 541.4,1411.3 542.7,1407.9 544.3,1414.7 545.9,1406.7 547.3,1401.0 548.9,1413.6 550.5,1403.3 551.9,1427.3 553.0,1434.6 554.2,1418.2 555.8,1406.7 557.4,1401.0 559.2,1397.6 560.8,1396.4 562.6,1394.1 564.2,1396.4 565.6,1388.4 567.2,1398.7 568.8,1390.7 570.2,1394.1 571.3,1388.4 572.5,1364.4 573.6,1390.7 575.2,1383.8 576.8,1391.8 578.2,1388.4 579.8,1395.3 581.4,1389.6 582.8,1390.7 583.9,1399.8 585.1,1374.7 586.2,1393.0 587.8,1388.4 589.4,1395.3 590.8,1381.5 591.9,1390.7 593.1,1404.4 594.7,1383.8 596.3,1397.6 597.7,1386.1 599.3,1394.1 600.9,1381.5 602.2,1375.8 603.4,1383.8 604.5,1380.4 605.7,1390.7 606.8,1371.2 607.9,1386.1 609.1,1402.1 610.7,1383.8 612.3,1391.8 613.7,1388.4 615.3,1397.6 616.9,1404.4 618.2,1409.0 619.8,1394.1 621.5,1397.6 622.8,1438.8 624.0,1393.0 625.6,1406.7 627.2,1391.8 628.5,1399.8 629.7,1406.7 631.3,1398.7 632.9,1394.1 634.3,1404.4 635.9,1399.8 637.5,1402.1 638.8,1397.6 640.4,1396.4 642.0,1390.7 643.4,1397.6 645.0,1398.7 646.6,1399.8 648.0,1388.4 648.9,1438.8 650.1,1388.4 651.4,1386.1 653.0,1375.8 654.2,1388.4 655.8,1399.8 657.2,1429.6 658.8,1397.6 660.4,1386.1 661.5,1378.1 662.6,1394.1 664.0,1381.5 665.6,1396.4 667.2,1381.5 668.6,1393.0 670.2,1383.8 671.8,1389.6 673.2,1381.5 674.8,1380.4 676.4,1367.8 677.7,1379.3 679.4,1369.0 681.0,1381.5 682.3,1375.8 683.5,1367.8 684.6,1382.7 686.2,1370.1 687.8,1380.4 689.0,1394.1 690.1,1331.9 691.3,1374.7 692.4,1379.3 693.8,1370.1 695.4,1375.8 697.0,1374.7 698.1,1365.5 699.5,1378.1 700.6,1374.7 701.8,1401.7 702.9,1377.0 704.5,1375.8 706.1,1369.0 707.5,1378.1 709.1,1374.7 710.7,1386.1 712.1,1372.4 713.7,1375.8 715.3,1370.1 716.7,1364.4 717.8,1400.3 718.9,1374.7 720.5,1365.5 721.7,1383.8 723.3,1374.7 724.4,1358.7 725.8,1327.3 727.0,1365.5 728.6,1375.8 730.2,1349.5 731.8,1361.9 733.3,1370.8 734.6,1349.3 736.3,1346.7 738.1,1348.0 739.4,1334.5 740.7,1348.0 742.7,1349.3 744.5,1350.5 746.0,1353.1 747.8,1354.3 749.5,1353.1 750.8,1370.8 752.3,1351.8 753.6,1368.3 755.4,1364.5 757.2,1370.8 758.7,1361.9 760.4,1358.1 762.2,1368.3 763.7,1372.1 764.8,1375.9 766.3,1364.5 768.1,1360.7 769.8,1372.1 771.4,1367.0 773.1,1369.6 774.9,1361.9 776.4,1354.3 778.2,1365.8 779.0,1347.5 780.2,1360.7 781.5,1354.3 782.8,1368.3 784.6,1356.9 786.3,1355.6 787.9,1356.9 789.6,1349.3 790.4,1339.6 791.7,1351.8 793.4,1353.1 795.2,1341.6 796.7,1334.0 798.0,1335.3 799.0,1311.2 800.3,1330.2 801.8,1322.6 803.6,1318.8 805.4,1327.7 806.9,1311.2 808.7,1303.6 810.4,1301.0 812.0,1293.4 813.7,1289.6 815.5,1284.6 817.0,1289.6 818.0,1282.0 819.1,1244.5 820.1,1287.1 821.3,1264.3 822.6,1284.6 823.9,1271.9 825.7,1279.5 827.2,1274.4 829.0,1270.6 830.7,1280.7 832.0,1292.2 833.5,1280.7 834.8,1301.0 836.1,1282.0 837.8,1283.3 839.6,1279.5 841.1,1284.6 842.9,1290.9 844.7,1293.4 846.2,1297.2 848.0,1303.6 849.8,1290.9 851.3,1289.6 852.6,1364.5 853.6,1293.4 855.1,1297.2 856.9,1302.3 858.6,1298.5 859.9,1306.1 861.2,1288.4 862.5,1307.4 863.7,1287.9 865.2,1369.6 866.5,1308.7 868.3,1311.2 870.1,1312.5 871.6,1322.6 873.4,1315.0 875.1,1320.1 876.7,1318.8 878.4,1321.3 880.2,1322.6 881.7,1325.2 883.5,1327.7 885.3,1329.0 886.8,1322.6 888.1,1297.2 889.4,1298.5 891.1,1329.0 892.9,1340.4 894.4,1339.1 896.2,1307.4 898.0,1331.5 899.5,1344.2 901.3,1331.5 903.1,1318.8 904.6,1337.8 906.4,1332.8 908.1,1341.6 909.6,1337.8 911.4,1342.9 913.2,1354.3 914.7,1345.5 916.5,1334.0 918.3,1348.0 919.8,1342.9 921.1,1325.2 922.8,1358.1 924.6,1351.8 926.1,1342.9 927.9,1331.5 929.7,1337.8 931.2,1346.7 933.0,1351.8 934.8,1345.5 936.3,1355.6 937.6,1346.7 938.6,1382.2 939.8,1331.5 941.1,1325.2 942.6,1327.7 944.4,1345.5 946.2,1336.6 947.7,1312.5 949.5,1317.5 951.3,1323.9 952.8,1329.0 954.6,1332.8 956.3,1327.7 957.9,1329.0 959.6,1313.7 961.4,1311.2 962.9,1304.9 964.7,1315.0 966.5,1312.5 968.0,1297.2 969.8,1304.9 971.6,1296.0 973.1,1297.2 974.9,1301.0" fill="none" stroke="#808080" stroke-width="2.35" stroke-linejoin="round" stroke-linecap="butt"/>
<path d="M79.3,1434.8H166.4 M886.1,1434.8H976.0" stroke="#808080" stroke-width="4.5" stroke-dasharray="16.6,7" fill="none"/>
</g>
<rect x="80.0" y="36.35" width="896.0" height="1398.45" fill="none" stroke="#000" stroke-width="1.33"/>
<path d="M79.9,35.75V1435.3999999999999" stroke="#000" stroke-width="2.1" fill="none"/>
<path d="M80.0,36.35v-8.2 M80.0,1434.8v8.2 M208.0,36.35v-8.2 M208.0,1434.8v8.2 M336.0,36.35v-8.2 M336.0,1434.8v8.2 M464.0,36.35v-8.2 M464.0,1434.8v8.2 M592.0,36.35v-8.2 M592.0,1434.8v8.2 M720.0,36.35v-8.2 M720.0,1434.8v8.2 M848.0,36.35v-8.2 M848.0,1434.8v8.2 M976.0,36.35v-8.2 M976.0,1434.8v8.2 M80.0,1434.8h-8.2 M976.0,1434.8h8.2 M80.0,1257.8h-8.2 M976.0,1257.8h8.2 M80.0,1080.8h-8.2 M976.0,1080.8h8.2 M80.0,903.8h-8.2 M976.0,903.8h8.2 M80.0,726.8h-8.2 M976.0,726.8h8.2 M80.0,549.8h-8.2 M976.0,549.8h8.2 M80.0,372.8h-8.2 M976.0,372.8h8.2 M80.0,195.8h-8.2 M976.0,195.8h8.2" stroke="#000" stroke-width="2.6" fill="none"/>
<g font-family="'DejaVu Sans','Liberation Sans',sans-serif" font-size="24px" letter-spacing="0.6" fill="#000" stroke="#000" stroke-width="0.3">
<text x="79.8" y="19.0" text-anchor="middle">1800</text>
<text x="79.8" y="1467.8" text-anchor="middle">1800</text>
<text x="207.8" y="19.0" text-anchor="middle">2000</text>
<text x="207.8" y="1467.8" text-anchor="middle">2000</text>
<text x="335.8" y="19.0" text-anchor="middle">2200</text>
<text x="335.8" y="1467.8" text-anchor="middle">2200</text>
<text x="463.8" y="19.0" text-anchor="middle">2400</text>
<text x="463.8" y="1467.8" text-anchor="middle">2400</text>
<text x="591.8" y="19.0" text-anchor="middle">2600</text>
<text x="591.8" y="1467.8" text-anchor="middle">2600</text>
<text x="719.8" y="19.0" text-anchor="middle">2800</text>
<text x="719.8" y="1467.8" text-anchor="middle">2800</text>
<text x="847.8" y="19.0" text-anchor="middle">3000</text>
<text x="847.8" y="1467.8" text-anchor="middle">3000</text>
<text x="975.8" y="19.0" text-anchor="middle">3200</text>
<text x="975.8" y="1467.8" text-anchor="middle">3200</text>
<text x="66" y="1444.1" text-anchor="end">0</text>
<text x="66" y="1267.1" text-anchor="end">1</text>
<text x="66" y="1090.1" text-anchor="end">2</text>
<text x="66" y="913.1" text-anchor="end">3</text>
<text x="66" y="736.1" text-anchor="end">4</text>
<text x="66" y="559.1" text-anchor="end">5</text>
<text x="66" y="382.1" text-anchor="end">6</text>
<text x="66" y="205.1" text-anchor="end">7</text>
</g>
<g font-family="'DejaVu Sans','Liberation Sans',sans-serif" stroke="#000" stroke-width="0.35">
<text x="360.9" y="1508.2" font-size="32px" textLength="333.5" lengthAdjust="spacing">Rest Wavelength [Å]</text>
<g transform="translate(35,0) rotate(-90)"><text x="-1160.5" y="0" font-size="32.2px" textLength="683.6" lengthAdjust="spacing">Scaled Flux Density + constant (1e-14 erg</text><text x="-473.3" y="0" font-size="32.2px" >s</text><text x="-457.7" y="-12" font-size="23.6px" stroke="#000" stroke-width="0.9">−</text><text x="-438.1" y="-12" font-size="23.6px" >1</text><text x="-415.4" y="0" font-size="32.2px" textLength="49.2" lengthAdjust="spacing">cm</text><text x="-369" y="-9.6" font-size="23.6px" stroke="#000" stroke-width="0.9">−</text><text x="-352.3" y="-9.6" font-size="23.6px" >2</text><text x="-325" y="0" font-size="32.2px" font-style="italic">Å</text><text x="-307.6" y="-12" font-size="23.6px" stroke="#000" stroke-width="0.9">−</text><text x="-288" y="-12" font-size="23.6px" >1</text><text x="-269.8" y="-11.5" font-size="32.2px" >)</text></g>
<text x="309.7" y="99.2" font-size="29.3px" fill="#0000ff" stroke="#0000ff" textLength="258.8" lengthAdjust="spacing">SN 2021yja (+9d)</text>
<text x="271.2" y="320.3" font-size="29.3px" fill="#ff0000" stroke="#ff0000" textLength="291.4" lengthAdjust="spacing">SN 2022wsp (+10d)</text>
<text x="271.2" y="761.6" font-size="29.3px" fill="#00bfff" stroke="#00bfff" textLength="280.3" lengthAdjust="spacing">SN 1999em (+12d)</text>
<text x="271.2" y="938.6" font-size="29.3px" fill="#bf00bf" stroke="#bf00bf" textLength="277.2" lengthAdjust="spacing">SN 2021yja (+14d)</text>
<text x="271.2" y="1186" font-size="29.3px" fill="#a52a2a" stroke="#a52a2a" textLength="291.4" lengthAdjust="spacing">SN 2022wsp (+20d)</text>
<rect x="266.5" y="1316.5" width="286.3" height="43.5" fill="#fff" stroke="none"/>
<text x="271.2" y="1345" font-size="29.3px" fill="#696969" stroke="#696969" textLength="277.2" lengthAdjust="spacing">SN 2021yja (+21d)</text>
<text x="621.2" y="98.6" font-size="25px" textLength="63.2" lengthAdjust="spacing">Mg II</text>
<text x="605.4" y="132" font-size="25px" textLength="82.5" lengthAdjust="spacing"><tspan font-style="italic">λ</tspan>2798</text>
</g>
</svg>
</body></html>
